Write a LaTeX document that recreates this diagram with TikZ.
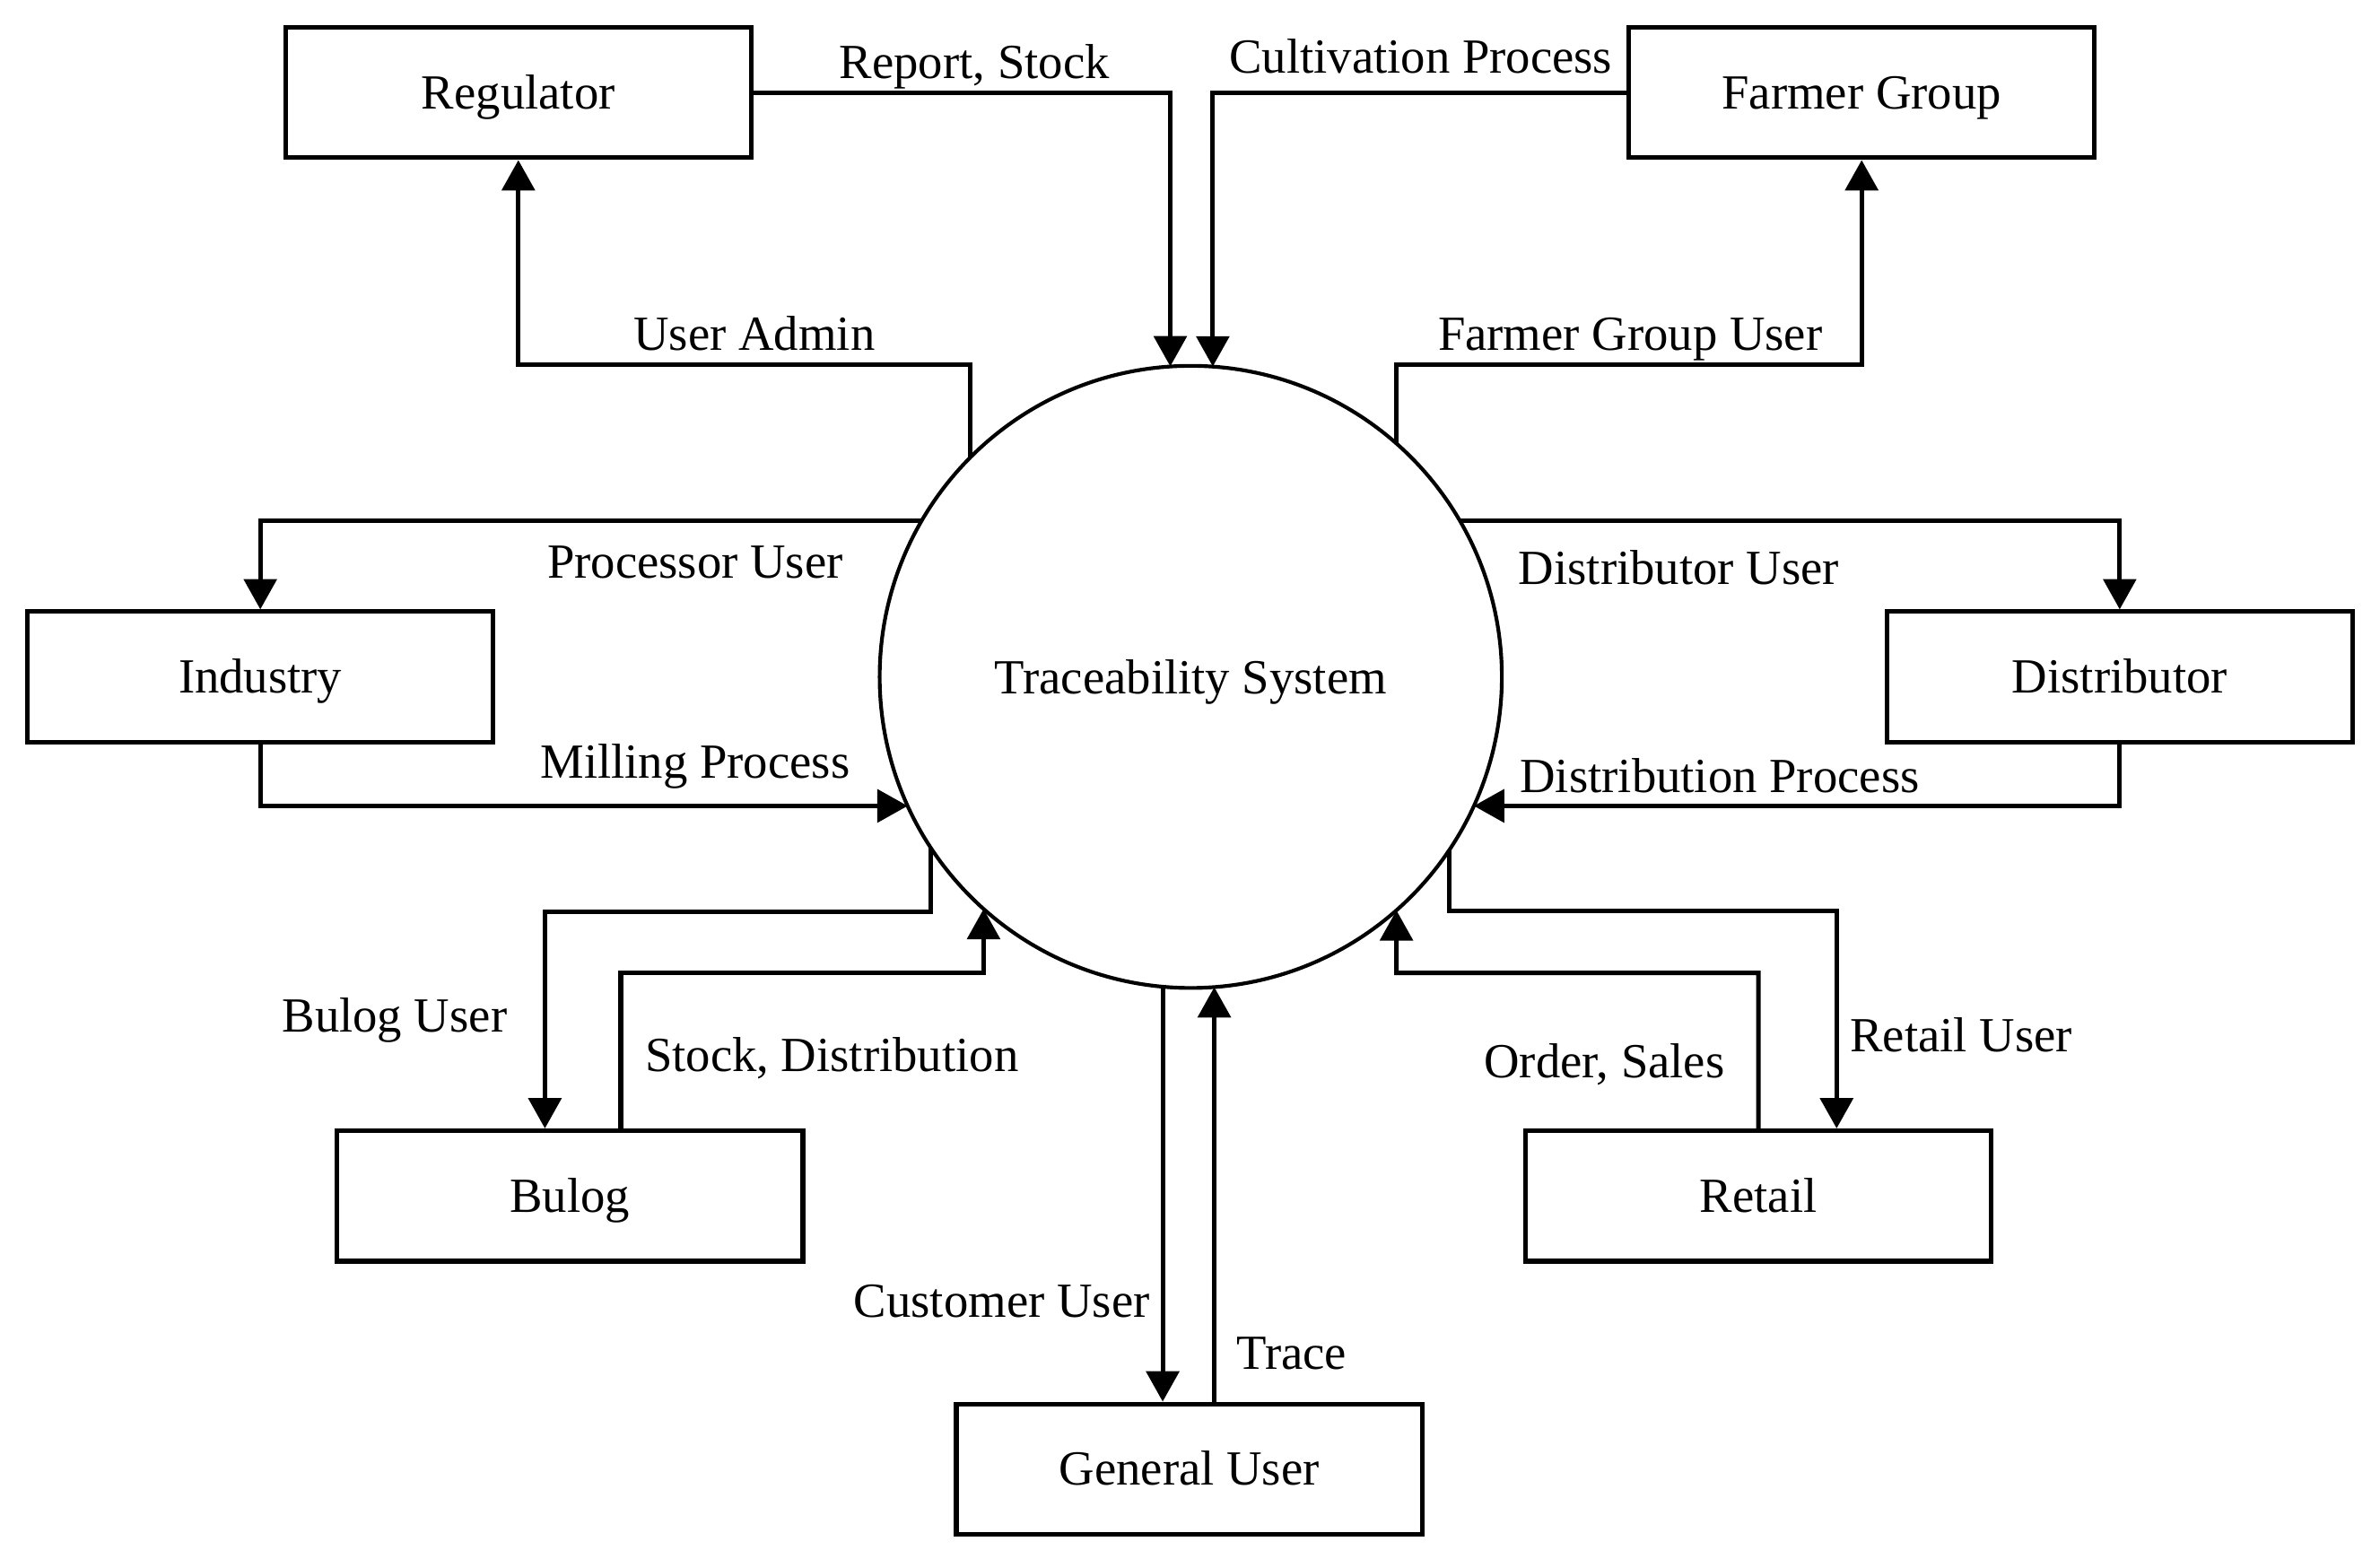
\documentclass[tikz,border=0pt]{standalone}
\usepackage{fontspec}
\setmainfont{Liberation Serif}
\usetikzlibrary{arrows.meta,calc}
\begin{document}
\begin{tikzpicture}[x=0.02cm, y=-0.02cm,
  font=\fontsize{18.4}{22}\selectfont,
  ent/.style={draw, line width=1.7pt, minimum width=6.14cm, minimum height=1.72cm, inner sep=0pt, text height=12.2pt, text depth=0pt},
  lbl/.style={anchor=base, inner sep=0pt},
  flow/.style={line width=1.7pt, -{Triangle[length=0.4cm, width=0.43cm]}}]
\useasboundingbox (0,0) rectangle (1568,1027);
% central process
\node[draw, circle, line width=1.4pt, minimum size=8.2cm, inner sep=0pt] (sys) at (784.5,446) {};
\node[lbl] (systxt) at (784.5,457) {Traceability System};
% points on the circle
\coordinate (c1) at ($(sys.center)+(-13.5,-204.6)$);
\coordinate (c2) at ($(sys.center)+(14.5,-204.5)$);
\coordinate (c3) at ($(sys.center)+(-145.5,-144.4)$);
\coordinate (c4) at ($(sys.center)+(135.5,-153.8)$);
\coordinate (c5) at ($(sys.center)+(-177.2,-103)$);
\coordinate (c6) at ($(sys.center)+(177.2,-103)$);
\coordinate (c7) at ($(sys.center)+(-186.5,85)$);
\coordinate (c8) at ($(sys.center)+(186.5,85)$);
\coordinate (c9) at ($(sys.center)+(-171.5,112.3)$);
\coordinate (c10) at ($(sys.center)+(-136.5,152.9)$);
\coordinate (c11) at ($(sys.center)+(170.5,113.8)$);
\coordinate (c12) at ($(sys.center)+(135.5,153.8)$);
\coordinate (c13) at ($(sys.center)+(-18.5,204.2)$);
\coordinate (c14) at ($(sys.center)+(15.5,204.4)$);
% entities
\node[ent] (reg) at (341.5,61) {Regulator};
\node[ent] (farm) at (1226.5,61) {Farmer Group};
\node[ent] (ind) at (171.5,446) {Industry};
\node[ent] (dist) at (1396.5,446) {Distributor};
\node[ent] (bulog) at (375.5,788) {Bulog};
\node[ent] (ret) at (1158.5,788) {Retail};
\node[ent] (gen) at (783.5,968) {General User};
% flows
\draw[flow] (reg.east) -| (c1);
\draw[flow] (farm.west) -| (c2);
\draw[flow] (c3) |- (reg.south |- 0,240) -- (reg.south);
\draw[flow] (c4) |- (farm.south |- 0,240) -- (farm.south);
\draw[flow] (c5) -| (ind.north);
\draw[flow] (c6) -| (dist.north);
\draw[flow] (ind.south) |- (c7);
\draw[flow] (dist.south) |- (c8);
\draw[flow] (c9) |- (359,601) -- (bulog.north -| 359,0);
\draw[flow] (bulog.north -| 409,0) |- (648,641) -- (c10);
\draw[flow] (c11) |- (1210,600) -- (ret.north -| 1210,0);
\draw[flow] (ret.north) |- (920,641) -- (c12);
\draw[flow] (c13) -- (gen.north -| c13);
\draw[flow] (gen.north -| c14) -- (c14);
% labels
\node[lbl] (l1) at (642,52) {Report, Stock};
\node[lbl] (l2) at (936,48) {Cultivation Process};
\node[lbl] (l3) at (497,231) {User Admin};
\node[lbl] (l4) at (1074,231) {Farmer Group User};
\node[lbl] (l5) at (458,381) {Processor User};
\node[lbl] (l6) at (1106,385) {Distributor User};
\node[lbl] (l7) at (458,513) {Milling Process};
\node[lbl] (l8) at (1133,522) {Distribution Process};
\node[lbl] (l9) at (260,680) {Bulog User};
\node[lbl] (l10) at (548,706) {Stock, Distribution};
\node[lbl] (l11) at (1292,693) {Retail User};
\node[lbl] (l12) at (1057,710) {Order, Sales};
\node[lbl] (l13) at (660,868) {Customer User};
\node[lbl] (l14) at (851,902) {Trace};
\end{tikzpicture}
\end{document}
